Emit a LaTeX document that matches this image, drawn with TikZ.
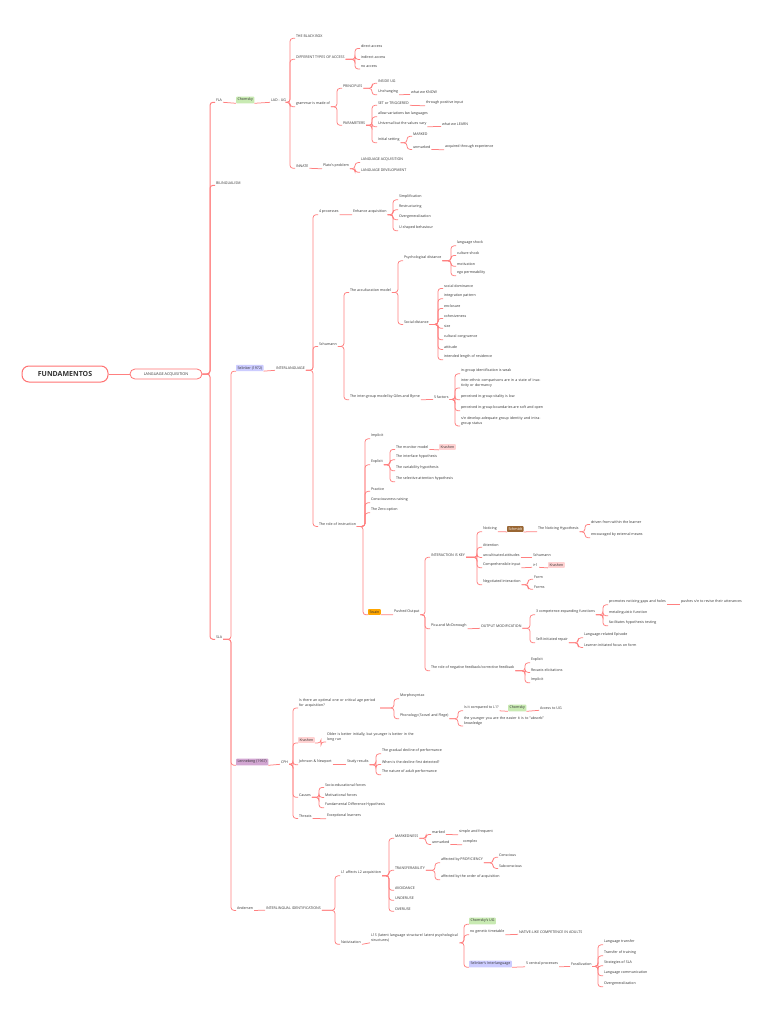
\documentclass[tikz,border=0pt]{standalone}
\usepackage{fontspec}
\setmainfont{Open Sans}
\begin{document}
\begin{tikzpicture}[x=1pt,y=-1pt,
  every node/.style={font=\fontsize{3.6}{4.3}\selectfont,text=black!80},
  topic/.style={anchor=west,inner sep=1pt,outer sep=0pt,
    append after command={[ul] (\tikzlastnode.south west) -- (\tikzlastnode.south east)}},
  ul/.style={draw=red!50,line width=0.75pt},
  con/.style={draw=red!50,line width=0.75pt,rounded corners=3pt},
  bx/.style={fill=#1,rounded corners=0.8pt,inner sep=1.5pt},
  root/.style={draw=red!55,line width=1pt,rounded corners=7pt,fill=white,minimum height=16pt,inner sep=4pt}
]
\useasboundingbox[fill=white] (0,0) rectangle (768,1024);
\newcommand\N[5][]{\node[topic,#1] (#2) at (#3,#4) {#5};}
\newcommand\C[2]{\foreach \c in {#2}{\draw[con] (#1.south east) -- ([xshift=-5pt]\c.south west |- #1.south east) -- ([xshift=-5pt]\c.south west) -- (\c.south west);}}
\newcommand\Lk[2]{\draw[ul] (#1.south east) -- (#2.south west);}
% roots
\node[root,font=\fontsize{7}{8}\selectfont\bfseries,minimum width=86pt] (fund) at (65,374) {FUNDAMENTOS};
\node[root,line width=0.8pt,rounded corners=5pt,minimum height=10pt,font=\fontsize{3.8}{4.5}\selectfont,minimum width=72pt,inner sep=2pt] (la) at (166,374) {LANGUAGE ACQUISITION};
\draw[con,line width=1pt] (fund.east) -- (la.west);
\N{fla}{215}{100}{FLA}
\N{bil}{215}{183}{BILINGUALISM}
\N{sla}{215}{637}{SLA}
\foreach \c in {fla,bil,sla}{\draw[con,line width=1pt] (la.east) -- ([xshift=-5pt]\c.south west |- la.east) -- ([xshift=-5pt]\c.south west) -- (\c.south west);}
% FLA
\N[bx=green!45!olive!30]{chom}{236}{100}{Chomsky}
\N{lad}{270}{100}{LAD - UG}
\Lk{fla}{chom}\Lk{chom}{lad}
\N{bbox}{295}{36}{THE BLACK BOX}
\N{dta}{295}{57}{DIFFERENT TYPES OF ACCESS}
\N{gram}{295}{104}{grammar is made of}
\N{inn}{295}{166}{INNATE}
\C{lad}{bbox,dta,gram,inn}
\N{da}{360}{46}{direct access}\N{ia}{360}{57}{indirect access}\N{na}{360}{67}{no access}
\C{dta}{da,ia,na}
\N{prin}{342}{86}{PRINCIPLES}\N{par}{342}{123}{PARAMETERS}
\C{gram}{prin,par}
\N{iug}{377}{81}{INSIDE UG}\N{unch}{377}{92}{Unchanging}\N{wk}{410}{92}{what we KNOW}
\C{prin}{iug,unch}\Lk{unch}{wk}
\N{set}{377}{103}{SET or TRIGGERED}\N{tpi}{425}{103}{through positive input}
\N{allow}{377}{114}{allow variations bw languages}
\N{univ}{377}{124}{Universal but the values vary}\N{wl}{441}{124}{what we LEARN}
\N{init}{377}{140}{Initial setting}
\C{par}{set,allow,univ,init}\Lk{set}{tpi}\Lk{univ}{wl}
\N{mk}{412}{134}{MARKED}\N{um}{412}{147}{unmarked}\N{ate}{444}{147}{acquired through experience}
\C{init}{mk,um}\Lk{um}{ate}
\N{plato}{322}{166}{Plato's problem}
\N{lacq}{360}{160}{LANGUAGE ACQUISITION}\N{ldev}{360}{170}{LANGUAGE DEVELOPMENT}
\Lk{inn}{plato}\C{plato}{lacq,ldev}
% SLA
\N[bx=blue!20]{sel}{236}{368}{Selinker (1972)}
\N[bx=violet!35]{len}{236}{762}{Lenneberg (1967)}
\N{and}{236}{908}{Andersen}
\C{sla}{sel,len,and}
\N{il}{275}{368}{INTERLANGUAGE}\Lk{sel}{il}
\N{fourp}{318}{212}{4 processes}
\N{schu}{318}{344}{Schumann}
\N{roi}{318}{524}{The role of instruction}
\C{il}{fourp,schu,roi}
\N{enh}{352}{212}{Enhance acquisition}\Lk{fourp}{enh}
\N{simp}{398}{197}{Simplification}\N{rest}{398}{207}{Restructuring}\N{over}{398}{217}{Overgeneralization}\N{ush}{398}{228}{U-shaped behaviour}
\C{enh}{simp,rest,over,ush}
\N{acc}{349}{290}{The acculturation model}
\N{igm}{349}{397}{The inter-group model by Giles and Byrne}
\C{schu}{acc,igm}
\N{psy}{403}{258}{Psychological distance}\N{soc}{403}{322}{Social distance}
\C{acc}{psy,soc}
\N{ls}{456}{243}{language shock}\N{cs}{456}{253}{culture shock}\N{mot}{456}{264}{motivation}\N{ego}{456}{273}{ego permeability}
\C{psy}{ls,cs,mot,ego}
\N{sd}{443}{286}{social dominance}\N{ip}{443}{296}{integration pattern}\N{enc}{443}{306}{enclosure}\N{coh}{443}{316}{cohesiveness}\N{size}{443}{326}{size}\N{cc}{443}{337}{cultural congruence}\N{att}{443}{347}{attitude}\N{ilr}{443}{357}{intended length of residence}
\C{soc}{sd,ip,enc,coh,size,cc,att,ilr}
\N{ff}{433}{397}{5 factors}\Lk{igm}{ff}
\N{f1}{460}{371}{in-group identification is weak}
\N[align=left,text width=82pt]{f2}{460}{383}{inter-ethnic comparisons are in a state of inactivity or dormancy}
\N{f3}{460}{397}{perceived in-group vitality is low}
\N{f4}{460}{408}{perceived in-group boundaries are soft and open}
\N[align=left,text width=82pt]{f5}{460}{421}{s/e develop adequate group identity and intra-group status}
\C{ff}{f1,f2,f3,f4,f5}
\N{impl}{370}{436}{Implicit}\N{expl}{370}{462}{Explicit}\N{prac}{370}{489}{Practice}\N{cr}{370}{500}{Consciousness raising}\N{zero}{370}{510}{The Zero option}
\N[bx=orange!70!yellow]{swain}{368}{612}{Swain}
\C{roi}{impl,expl,prac,cr,zero,swain}
\N{mon}{395}{447}{The monitor model}\N[bx=pink!70]{kr1}{439}{447}{Krashen}
\N{ifh}{395}{457}{The interface hypothesis}\N{vh}{395}{468}{The variability hypothesis}\N{sah}{395}{479}{The selective attention hypothesis}
\C{expl}{mon,ifh,vh,sah}\Lk{mon}{kr1}
\N{po}{393}{612}{Pushed Output}\Lk{swain}{po}
\N{iik}{430}{555}{INTERACTION IS KEY}\N{pica}{430}{626}{Pica and McDonough}\N{neg}{430}{668}{The role of negative feedback/corrective feedback}
\C{po}{iik,pica,neg}
\N{not}{482}{529}{Noticing}\N[bx=brown!80!black,text=white]{schm}{507}{529}{Schmidt}\N{nh}{537}{529}{The Noticing Hypothesis}
\N{dr}{590}{522}{driven  from within the learner}\N{em}{590}{535}{encouraged by external means}
\C{nh}{dr,em}\Lk{not}{schm}\Lk{schm}{nh}
\N{attn}{482}{545}{Attention}
\N{unc}{482}{555}{uncultivated attitudes}\N{schu2}{532}{555}{Schumann}
\N{ci}{482}{565}{Comprehensible input}\N{ip1}{532}{565}{i+1}\N[bx=pink!70]{kr2}{548}{565}{Krashen}
\N{ni}{482}{582}{Negotiated interaction}\N{form}{533}{577}{Form}\N{forms}{533}{587}{Forms}
\C{iik}{not,attn,unc,ci,ni}\Lk{unc}{schu2}\Lk{ci}{ip1}\Lk{ip1}{kr2}\C{ni}{form,forms}
\N{om}{480}{626}{OUTPUT MODIFICATION}\Lk{pica}{om}
\N{tcf}{535}{612}{3 competence-expanding functions}\N{sir}{535}{640}{Self-initiated repair}
\C{om}{tcf,sir}
\N{pn}{608}{602}{promotes noticing gaps and holes}\N{push}{680}{602}{pushes s/e to revise their utterances}
\N{meta}{608}{613}{metalinguistic function}\N{fht}{608}{623}{facilitates hypothesis testing}
\C{tcf}{pn,meta,fht}\Lk{pn}{push}
\N{lre}{583}{635}{Language-related Episode}\N{lif}{583}{645}{Learner-initiated focus on form}
\C{sir}{lre,lif}
\N{ex2}{530}{660}{Explicit}\N{rec}{530}{670}{Recasts elicitations}\N{im2}{530}{680}{Implicit}
\C{neg}{ex2,rec,im2}
% Lenneberg
\N{cph}{280}{762}{CPH}\Lk{len}{cph}
\N[align=left,text width=80pt]{q}{298}{703}{Is there an optimal one or critical age  period for acquisition?}
\N[bx=pink!70]{kr3}{298}{740}{Krashen}
\N{jn}{298}{762}{Johnson \& Newport}
\N{cau}{298}{795}{Causes}
\N{thr}{298}{816}{Threats}
\C{cph}{q,kr3,jn,cau,thr}
\N{morph}{399}{696}{Morphosyntax}\N{phon}{399}{716}{Phonology (Scovel and Flege)}
\C{q}{morph,phon}
\N{cmp}{463}{708}{Is it compared to L1?}\N[bx=green!45!olive!30]{chom2}{508}{708}{Chomsky}\N{aug}{539}{708}{Access to UG}
\N[align=left,text width=85pt]{yng}{463}{721}{the younger you are the easier it is to ``absorb'' knowledge}
\C{phon}{cmp,yng}\Lk{cmp}{chom2}\Lk{chom2}{aug}
\N[align=left,text width=88pt]{older}{326}{737}{Older is better initially, but younger is better in the long run}
\C{kr3}{older}
\N{sr}{346}{762}{Study  results}\Lk{jn}{sr}
\N{gd}{381}{751}{The gradual decline of performance}\N{wd}{381}{762}{When is the decline first detected?}\N{nap}{381}{772}{The nature of adult performance}
\C{sr}{gd,wd,nap}
\N{sef}{324}{785}{Socio-educational forces}\N{mf}{324}{795}{Motivational forces}\N{fdh}{324}{805}{Fundamental Difference Hypothesis}
\C{cau}{sef,mf,fdh}
\N{exl}{326}{816}{Exceptional learners}\Lk{thr}{exl}
% Andersen
\N{ili}{265}{908}{INTERLINGUAL IDENTIFICATIONS}\Lk{and}{ili}
\N{l1a}{340}{873}{L1 affects L2 acquisition}\N{nat}{340}{942}{Nativization}
\C{ili}{l1a,nat}
\N{mkd}{394}{836}{MARKEDNESS}\N{tra}{394}{868}{TRANSFERABILITY}\N{avo}{394}{888}{AVOIDANCE}\N{und}{394}{898}{UNDERUSE}\N{ovu}{394}{909}{OVERUSE}
\C{l1a}{mkd,tra,avo,und,ovu}
\N{mk2}{431}{832}{marked}\N{saf}{458}{832}{simple and frequent}\N{um2}{431}{842}{unmarked}\N{cpx}{462}{842}{complex}
\C{mkd}{mk2,um2}\Lk{mk2}{saf}\Lk{um2}{cpx}
\N{abp}{440}{860}{affected by PROFICIENCY}\N{con}{498}{855}{Conscious}\N{subc}{498}{866}{Subconscious}
\N{abo}{440}{877}{affected by the order of acquisition}
\C{tra}{abp,abo}\C{abp}{con,subc}
\N[align=left,text width=90pt]{l1s}{370}{938}{L1S (latent language structure/ latent psychological structures)}
\draw[ul] (nat.south east) -- (l1s.south west);
\N[bx=green!45!olive!30]{cug}{469}{921}{Chomsky's UG}
\N{ngt}{469}{932}{no genetic timetable}
\N[bx=blue!20]{sil}{469}{964}{Selinker's Interlanguage}
\C{l1s}{cug,ngt,sil}
\N{nlc}{518}{932}{NATIVE-LIKE COMPETENCE IN ADULTS}\Lk{ngt}{nlc}
\N{fcp}{525}{964}{5 central processes}\N{fos}{570}{964}{Fossilization}
\Lk{sil}{fcp}\Lk{fcp}{fos}
\N{lt}{603}{942}{Language transfer}\N{tot}{603}{953}{Transfer of training}\N{ssla}{603}{963}{Strategies of SLA}\N{lc}{603}{973}{Language communication}\N{ovg}{603}{984}{Overgeneralization}
\C{fos}{lt,tot,ssla,lc,ovg}
\end{tikzpicture}
\end{document}
